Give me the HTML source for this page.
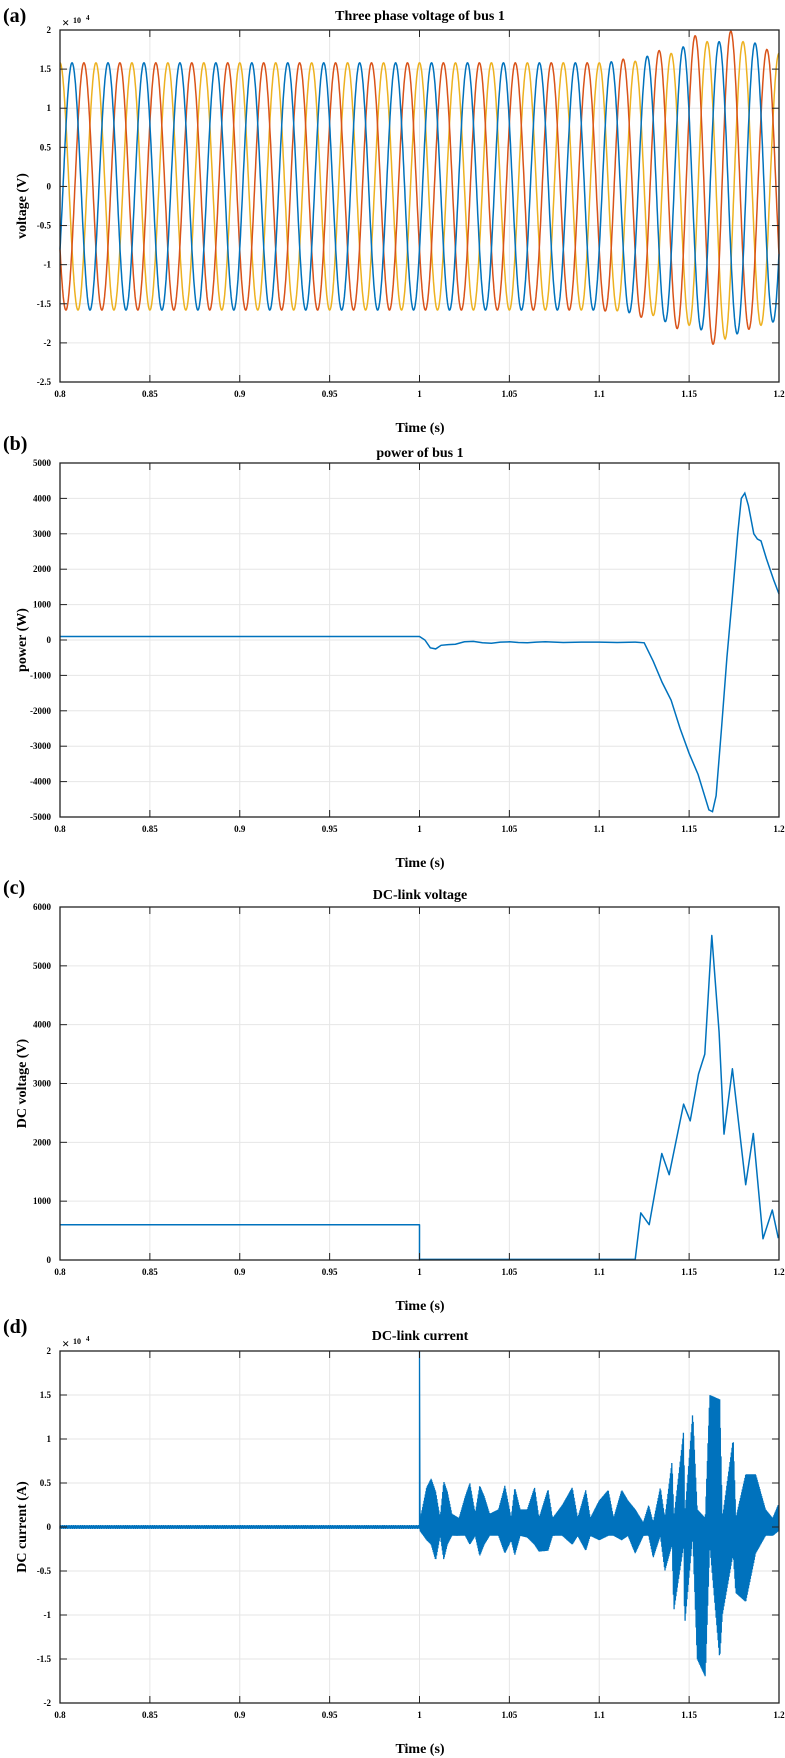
<!DOCTYPE html>
<html><head><meta charset="utf-8"><style>
html,body{margin:0;padding:0;background:#fff}
svg{display:block}
text{font-family:"Liberation Serif",serif;font-weight:bold;fill:#000}
</style></head><body>
<svg id="fig" width="785" height="1758" viewBox="0 0 785 1758" xmlns="http://www.w3.org/2000/svg"></svg>
<script>
// ---------- data ----------
const xTicks = [0.8,0.85,0.9,0.95,1,1.05,1.1,1.15,1.2];
const xTickLabels = ["0.8","0.85","0.9","0.95","1","1.05","1.1","1.15","1.2"];
// (a) three-phase voltage: amplitude envelope (x1e4) per phase
const vEnvT = [0.8,1.1,1.12,1.14,1.16,1.17,1.18,1.2];
const vAmpBlue = [1.58,1.58,1.62,1.75,1.85,1.85,1.9,1.7];
const vAmpRed = [1.58,1.58,1.65,1.78,2.0,2.05,1.85,1.7];
const vAmpYellow = [1.58,1.58,1.6,1.7,1.85,1.95,1.85,1.7];
const vFreq = 50;
const vPeakTimeBlue = 0.8067, vPeakTimeRed = 0.8133, vPeakTimeYellow = 0.8;
const aYTicks = [2,1.5,1,0.5,0,-0.5,-1,-1.5,-2,-2.5];
// (b) power
const pT = [0.8,1.0,1.003,1.006,1.009,1.012,1.016,1.02,1.025,1.03,1.035,1.04,1.045,1.05,1.055,1.06,1.065,1.07,1.08,1.09,1.1,1.11,1.12,1.125,1.13,1.135,1.14,1.145,1.15,1.155,1.158,1.161,1.163,1.165,1.168,1.171,1.174,1.177,1.179,1.181,1.183,1.186,1.188,1.19,1.193,1.197,1.2];
const pW = [100,100,0,-220,-250,-150,-130,-120,-50,-40,-80,-90,-60,-50,-70,-80,-60,-50,-70,-60,-60,-70,-60,-80,-600,-1200,-1700,-2500,-3200,-3800,-4300,-4800,-4850,-4400,-2500,-500,1200,3000,4000,4150,3800,3000,2850,2800,2300,1700,1300];
const bYTicks = [5000,4000,3000,2000,1000,0,-1000,-2000,-3000,-4000,-5000];
// (c) DC-link voltage
const cT = [0.8,0.99999,1.0,1.0003,1.12,1.1231,1.1278,1.1348,1.1389,1.1469,1.1506,1.1552,1.1587,1.1626,1.1667,1.1694,1.1741,1.1815,1.1857,1.1911,1.1963,1.1996];
const cV = [600,600,0,10,10,800,600,1810,1450,2650,2365,3160,3500,5515,3870,2140,3250,1280,2150,360,850,370];
const cYTicks = [6000,5000,4000,3000,2000,1000,0];
// (d) DC-link current envelope (x1e4)
const dT = [1.0005,1.004,1.0065,1.009,1.0115,1.0135,1.0155,1.018,1.022,1.0255,1.028,1.031,1.0335,1.036,1.039,1.044,1.0475,1.051,1.053,1.056,1.06,1.064,1.0665,1.0715,1.074,1.0795,1.085,1.088,1.0925,1.095,1.1,1.105,1.108,1.1125,1.116,1.12,1.1245,1.1275,1.13,1.134,1.1365,1.1405,1.1415,1.147,1.1475,1.152,1.1545,1.159,1.1615,1.167,1.1685,1.1745,1.176,1.1815,1.187,1.1925,1.1965,1.1995];
const dHi = [0.1,0.45,0.55,0.4,0.1,0.52,0.4,0.15,0.1,0.35,0.5,0.15,0.47,0.35,0.15,0.2,0.47,0.1,0.45,0.2,0.2,0.45,0.1,0.43,0.1,0.25,0.45,0.1,0.42,0.1,0.3,0.42,0.1,0.42,0.3,0.2,0.05,0.25,0.05,0.45,0.1,0.75,0.1,1.1,0.1,1.3,0.2,0.1,1.5,1.45,0.1,1.0,0.1,0.6,0.6,0.2,0.1,0.25];
const dLo = [-0.05,-0.15,-0.2,-0.38,-0.1,-0.37,-0.2,-0.1,-0.1,-0.1,-0.2,-0.1,-0.33,-0.2,-0.1,-0.1,-0.3,-0.15,-0.32,-0.1,-0.12,-0.2,-0.28,-0.27,-0.1,-0.1,-0.2,-0.1,-0.27,-0.1,-0.15,-0.1,-0.1,-0.15,-0.1,-0.3,-0.1,-0.1,-0.35,-0.1,-0.5,-0.2,-0.95,-0.2,-1.12,-0.1,-1.5,-1.7,-0.2,-1.5,-1.0,-0.3,-0.75,-0.85,-0.3,-0.1,-0.1,-0.05];
const dSpike = 2.0;
const dYTicks = [2,1.5,1,0.5,0,-0.5,-1,-1.5,-2];

// ---------- drawing ----------
const NS="http://www.w3.org/2000/svg";
const svg=document.getElementById('fig');
function mk(tag,attrs,parent){const e=document.createElementNS(NS,tag);for(const k in attrs)e.setAttribute(k,attrs[k]);(parent||svg).appendChild(e);return e;}
function txt(s,x,y,size,anchor,parent){const t=mk('text',{x:x,y:y,'font-size':size,'text-anchor':anchor||'middle'},parent);t.textContent=s;return t;}
function interp(ts,vs,t){if(t<=ts[0])return vs[0];for(let i=1;i<ts.length;i++){if(t<=ts[i]){const f=(t-ts[i-1])/(ts[i]-ts[i-1]);return vs[i-1]+f*(vs[i]-vs[i-1]);}}return vs[vs.length-1];}
const X0=60,X1=779;
const xs=t=>X0+(t-0.8)/0.4*(X1-X0);

function panel(o){
  const g=mk('g',{});
  
  
  const ys=v=>o.top+(o.ymax-v)/(o.ymax-o.ymin)*(o.bottom-o.top);
  // grid
  xTicks.forEach(t=>{const l=mk('line',{x1:xs(t),x2:xs(t),y1:o.top,y2:o.bottom,stroke:'#e6e6e6','stroke-width':1},g);});
  o.yTicks.forEach(v=>{const l=mk('line',{x1:X0,x2:X1,y1:ys(v),y2:ys(v),stroke:'#e6e6e6','stroke-width':1},g);});
  o.draw(g,ys);
  // box
  const b=mk('rect',{x:X0,y:o.top,width:X1-X0,height:o.bottom-o.top,fill:'none',stroke:'#222','stroke-width':1.3},g);
  
  xTicks.forEach((t,i)=>{
    mk('line',{x1:xs(t),x2:xs(t),y1:o.bottom,y2:o.bottom-7,stroke:'#222'},g);
    mk('line',{x1:xs(t),x2:xs(t),y1:o.top,y2:o.top+7,stroke:'#222'},g);
    const tl=txt(xTickLabels[i],xs(t),o.bottom+15,9,'middle',g);
    
  });
  o.yTicks.forEach(v=>{
    mk('line',{x1:X0,x2:X0+7,y1:ys(v),y2:ys(v),stroke:'#222'},g);
    mk('line',{x1:X1,x2:X1-7,y1:ys(v),y2:ys(v),stroke:'#222'},g);
    const tl=txt(String(v),X0-9,ys(v)+3,9,'end',g);
    
  });
  if(o.exp){const e=txt('\u00d7',X0+2,o.top-3,13,'start',g);
    const e2=txt('10',X0+13,o.top-7,8,'start',g);
    const e3=txt('4',X0+26,o.top-10,7,'start',g);}
  const tt=txt(o.title,420,o.titleY,14,'middle',g);
  const pl=txt(o.letter,3,o.letterY,20,'start',g);
  const xl=txt('Time (s)',420,o.bottom+50,14,'middle',g);
  const cy=(o.top+o.bottom)/2;
  const yl=txt(o.ylabel,0,0,14,'middle',g);yl.setAttribute('transform','translate(26,'+cy+') rotate(-90)');
  
}

// (a)
panel({name:'voltage-panel',top:30,bottom:382,ymin:-2.5,ymax:2,yTicks:aYTicks,exp:true,title:'Three phase voltage of bus 1',titleY:20,letter:'(a)',letterY:22,ylabel:'voltage (V)',
 draw:(g,ys)=>{
  const ph=[[vAmpYellow,vPeakTimeYellow,'#EDB120','phase-c-line'],[vAmpRed,vPeakTimeRed,'#D95319','phase-b-line'],[vAmpBlue,vPeakTimeBlue,'#0072BD','phase-a-line']];
  ph.forEach(p=>{let d='';for(let t=0.8;t<=1.2;t+=0.0002){const v=interp(vEnvT,p[0],t)*Math.cos(2*Math.PI*vFreq*(t-p[1]));d+=(d?'L':'M')+xs(t).toFixed(1)+','+ys(v).toFixed(1);}
   const pa=mk('path',{d:d,fill:'none',stroke:p[2],'stroke-width':1.5},g);});
 }});
// (b)
panel({name:'power-panel',top:463,bottom:817,ymin:-5000,ymax:5000,yTicks:bYTicks,title:'power of bus 1',titleY:457,letter:'(b)',letterY:450,ylabel:'power (W)',
 draw:(g,ys)=>{let d='';pT.forEach((t,i)=>{d+=(i?'L':'M')+xs(t).toFixed(1)+','+ys(pW[i]).toFixed(1);});
  const pa=mk('path',{d:d,fill:'none',stroke:'#0072BD','stroke-width':1.5},g);}});
// (c)
panel({name:'dc-voltage-panel',top:907,bottom:1260,ymin:0,ymax:6000,yTicks:cYTicks,title:'DC-link voltage',titleY:899,letter:'(c)',letterY:894,ylabel:'DC voltage (V)',
 draw:(g,ys)=>{let d='';cT.forEach((t,i)=>{d+=(i?'L':'M')+xs(t).toFixed(1)+','+ys(cV[i]).toFixed(1);});
  const pa=mk('path',{d:d,fill:'none',stroke:'#0072BD','stroke-width':1.5,'stroke-linejoin':'round'},g);}});
// (d)
panel({name:'dc-current-panel',top:1351,bottom:1703,ymin:-2,ymax:2,yTicks:dYTicks,exp:true,title:'DC-link current',titleY:1340,letter:'(d)',letterY:1333,ylabel:'DC current (A)',
 draw:(g,ys)=>{
  let d='M'+xs(0.8)+','+ys(0.01);let k=0;
  for(let t=0.8;t<1.0;t+=0.0005){d+='L'+xs(t).toFixed(1)+','+ys(k%2?0.02:-0.02).toFixed(1);k++;}
  d+='L'+xs(1.0)+','+ys(0)+'L'+xs(1.0)+','+ys(dSpike)+'L'+xs(1.0003)+','+ys(0);
  k=0;for(let t=1.0005;t<=1.2;t+=0.00018){const v=k%2?interp(dT,dHi,t):interp(dT,dLo,t);d+='L'+xs(t).toFixed(1)+','+ys(v).toFixed(1);k++;}
  const pa=mk('path',{d:d,fill:'none',stroke:'#0072BD','stroke-width':1.3},g);}});
</script>
</body></html>
